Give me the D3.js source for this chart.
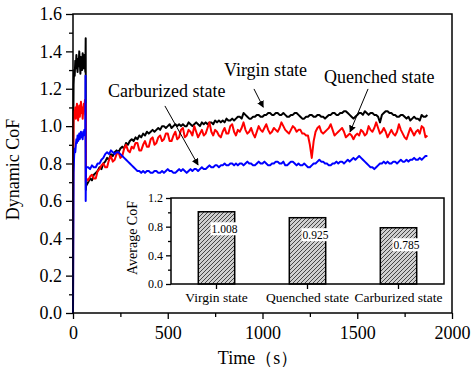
<!DOCTYPE html>
<html>
<head>
<meta charset="utf-8">
<script src="https://cdn.jsdelivr.net/npm/d3@7/dist/d3.min.js"></script>
<style>
body { margin: 0; background: #fff; }
svg { display: block; font-family: "Liberation Serif", "Times New Roman", serif; }
</style>
</head>
<body>
<svg width="474" height="380"></svg>
<script>
// DATA

var timeSec = [0, 1, 3, 6, 9, 12, 15, 18, 21, 24, 27, 30, 33, 36, 39, 42, 45, 48, 51, 54, 57, 60, 63, 65, 66, 67, 68, 69,
  80, 90, 100, 110, 120, 130, 140, 150, 160, 170, 180, 190, 200, 210, 220, 230, 240, 250, 260, 270,
  280, 290, 300, 310, 320, 330, 340, 350, 360, 370, 380, 390, 400, 410, 420, 430, 440, 450, 460, 470,
  480, 490, 500, 510, 520, 530, 540, 550, 560, 570, 580, 590, 600, 610, 620, 630, 640, 650, 660, 670,
  680, 690, 700, 710, 720, 730, 740, 750, 760, 770, 780, 790, 800, 810, 820, 830, 840, 850, 860, 870,
  880, 890, 900, 910, 920, 930, 940, 950, 960, 970, 980, 990, 1000, 1010, 1020, 1030, 1040, 1050, 1060, 1070,
  1080, 1090, 1100, 1110, 1120, 1130, 1140, 1150, 1160, 1170, 1180, 1190, 1200, 1210, 1220, 1230, 1240, 1250, 1260, 1270,
  1280, 1290, 1300, 1310, 1320, 1330, 1340, 1350, 1360, 1370, 1380, 1390, 1400, 1410, 1420, 1430, 1440, 1450, 1460, 1470,
  1480, 1490, 1500, 1510, 1520, 1530, 1540, 1550, 1560, 1570, 1580, 1590, 1600, 1610, 1620, 1630, 1640, 1650, 1660, 1670,
  1680, 1690, 1700, 1710, 1720, 1730, 1740, 1750, 1760, 1770, 1780, 1790, 1800, 1810, 1820, 1830, 1840, 1850, 1860, 1870];

var virginCoF = [0, 0.90, 1.22, 1.30, 1.27, 1.35, 1.31, 1.38, 1.33, 1.29, 1.36, 1.32, 1.40, 1.34, 1.28, 1.37, 1.33, 1.30, 1.39, 1.35, 1.31, 1.38, 1.33, 1.29, 1.36, 1.47, 0.66, 0.68,
  0.70, 0.72, 0.71, 0.74, 0.75, 0.76, 0.78, 0.77, 0.80, 0.81, 0.83, 0.82, 0.85, 0.84, 0.86, 0.87, 0.86, 0.88, 0.89, 0.88,
  0.91, 0.90, 0.92, 0.93, 0.92, 0.94, 0.93, 0.95, 0.94, 0.96, 0.95, 0.97, 0.96, 0.97, 0.98, 0.97, 0.98, 0.99, 0.98, 1.00,
  1.00, 0.99, 1.00, 1.01, 0.99, 1.00, 1.01, 1.00, 1.01, 1.00, 1.01, 1.00, 1.00, 1.02, 1.01, 1.00, 1.01, 1.02, 1.01, 1.00,
  1.02, 1.01, 1.02, 1.01, 1.02, 1.02, 1.01, 1.03, 1.02, 1.03, 1.02, 1.03, 1.02, 1.04, 1.03, 1.03, 1.04, 1.03, 1.04, 1.05,
  1.05, 1.04, 1.07, 1.06, 1.05, 1.04, 1.04, 1.05, 1.05, 1.06, 1.06, 1.05, 1.05, 1.06, 1.06, 1.07, 1.07, 1.06, 1.06, 1.07,
  1.07, 1.06, 1.06, 1.07, 1.06, 1.05, 1.05, 1.06, 1.06, 1.07, 1.07, 1.06, 1.05, 1.04, 1.04, 1.05, 1.05, 1.06, 1.06, 1.05,
  1.05, 1.06, 1.06, 1.05, 1.05, 1.04, 1.05, 1.06, 1.06, 1.07, 1.07, 1.06, 1.06, 1.07, 1.07, 1.08, 1.08, 1.07, 1.06, 1.05,
  1.04, 1.05, 1.06, 1.07, 1.07, 1.06, 1.08, 1.07, 1.06, 1.07, 1.07, 1.06, 1.06, 1.05, 1.02, 1.06, 1.07, 1.08, 1.08, 1.07,
  1.07, 1.06, 1.06, 1.05, 1.05, 1.06, 1.06, 1.05, 1.04, 1.05, 1.03, 1.04, 1.05, 1.04, 1.04, 1.03, 1.06, 1.05, 1.05, 1.06];

var quenchedCoF = [0, 0.60, 1.02, 1.08, 1.05, 1.10, 1.04, 1.09, 1.12, 1.06, 1.03, 1.08, 1.11, 1.05, 1.09, 1.13, 1.07, 1.10, 1.04, 1.09, 1.12, 1.08, 1.14, 1.06, 1.10, 1.12, 0.70, 0.72,
  0.71, 0.73, 0.74, 0.72, 0.72, 0.76, 0.77, 0.79, 0.80, 0.78, 0.78, 0.82, 0.84, 0.81, 0.82, 0.85, 0.86, 0.83, 0.84, 0.88,
  0.90, 0.87, 0.86, 0.89, 0.88, 0.91, 0.91, 0.87, 0.87, 0.90, 0.92, 0.89, 0.89, 0.93, 0.94, 0.90, 0.91, 0.94, 0.95, 0.92,
  0.93, 0.96, 0.96, 0.92, 0.92, 0.95, 0.97, 0.93, 0.94, 0.98, 0.99, 0.94, 0.95, 0.98, 0.97, 0.95, 1.00, 0.97, 0.94, 0.96,
  0.98, 0.95, 0.96, 0.99, 1.02, 0.97, 0.95, 0.98, 0.97, 0.95, 0.94, 0.97, 0.99, 0.96, 0.96, 1.00, 1.01, 0.97, 0.95, 0.98,
  0.97, 0.99, 1.02, 0.98, 0.96, 0.97, 0.99, 0.96, 0.94, 0.97, 1.00, 0.98, 0.97, 0.99, 1.01, 0.98, 0.96, 0.97, 0.99, 0.98,
  0.97, 0.99, 1.02, 1.00, 0.98, 0.97, 0.96, 0.98, 1.00, 0.99, 0.97, 0.98, 0.98, 0.96, 0.96, 0.95, 0.95, 0.90, 0.83, 0.92,
  0.97, 0.99, 1.00, 0.97, 0.96, 0.97, 0.98, 0.99, 1.01, 0.98, 0.95, 0.96, 0.97, 0.98, 0.99, 0.97, 0.94, 0.95, 0.96, 0.95,
  0.93, 0.95, 0.96, 0.95, 0.98, 0.97, 0.95, 0.96, 1.00, 0.98, 0.97, 0.99, 1.02, 0.99, 0.96, 0.97, 0.99, 0.97, 0.94, 0.96,
  0.98, 0.96, 0.95, 0.97, 1.01, 0.98, 0.96, 0.94, 0.93, 0.96, 0.99, 0.97, 0.95, 0.97, 0.98, 0.96, 1.00, 0.99, 0.94, 0.95];

var carburizedCoF = [0, 0.30, 0.75, 0.84, 0.88, 0.86, 0.90, 0.93, 0.91, 0.95, 0.92, 0.94, 0.96, 0.93, 0.95, 0.97, 0.94, 0.96, 0.93, 0.97, 0.95, 0.98, 0.96, 0.99, 1.27, 0.60, 0.74, 0.78,
  0.78, 0.77, 0.79, 0.78, 0.78, 0.80, 0.80, 0.82, 0.83, 0.85, 0.86, 0.85, 0.87, 0.86, 0.85, 0.86, 0.86, 0.85, 0.84, 0.83,
  0.82, 0.81, 0.80, 0.79, 0.78, 0.77, 0.76, 0.76, 0.75, 0.76, 0.75, 0.76, 0.76, 0.75, 0.75, 0.76, 0.76, 0.75, 0.75, 0.76,
  0.75, 0.76, 0.77, 0.76, 0.76, 0.75, 0.75, 0.76, 0.77, 0.76, 0.77, 0.76, 0.75, 0.76, 0.77, 0.76, 0.77, 0.77, 0.76, 0.77,
  0.78, 0.77, 0.77, 0.78, 0.79, 0.78, 0.78, 0.79, 0.79, 0.78, 0.79, 0.79, 0.80, 0.79, 0.79, 0.80, 0.80, 0.79, 0.80, 0.79,
  0.80, 0.80, 0.79, 0.80, 0.81, 0.80, 0.80, 0.79, 0.79, 0.80, 0.81, 0.80, 0.80, 0.81, 0.80, 0.79, 0.79, 0.80, 0.80, 0.81,
  0.81, 0.80, 0.80, 0.81, 0.79, 0.79, 0.80, 0.81, 0.81, 0.80, 0.79, 0.80, 0.79, 0.79, 0.80, 0.79, 0.78, 0.78, 0.79, 0.80,
  0.80, 0.81, 0.82, 0.81, 0.81, 0.80, 0.80, 0.79, 0.79, 0.80, 0.80, 0.81, 0.80, 0.81, 0.81, 0.80, 0.81, 0.82, 0.81, 0.82,
  0.83, 0.82, 0.83, 0.84, 0.83, 0.82, 0.81, 0.80, 0.79, 0.78, 0.78, 0.77, 0.78, 0.79, 0.80, 0.80, 0.81, 0.80, 0.81, 0.80,
  0.80, 0.81, 0.81, 0.80, 0.81, 0.82, 0.81, 0.81, 0.82, 0.81, 0.82, 0.82, 0.83, 0.82, 0.82, 0.83, 0.82, 0.83, 0.84, 0.84];

var states = ["Virgin state", "Quenched state", "Carburized state"];
var averageCoF = [1.008, 0.925, 0.785];

var xTicks = [0, 500, 1000, 1500, 2000];
var xMinor = [250, 750, 1250, 1750];
var yTicks = [0, 0.2, 0.4, 0.6, 0.8, 1.0, 1.2, 1.4, 1.6];
var yMinor = [0.1, 0.3, 0.5, 0.7, 0.9, 1.1, 1.3, 1.5];
var insetTicks = [0, 0.4, 0.8, 1.2];
var insetMinor = [0.2, 0.6, 1.0];

// annotation anchors in data units: label position, arrow start, arrow end
var notes = [
  { text: "Carburized state", t: 185, v: 1.156, t0: 485, v0: 1.108, t1: 660, v1: 0.792 },
  { text: "Virgin state", t: 797, v: 1.266, t0: 955, v0: 1.199, t1: 1004, v1: 1.101 },
  { text: "Quenched state", t: 1325, v: 1.229, t0: 1557, v0: 1.199, t1: 1462, v1: 0.969 }
];

// SETUP

var svg = d3.select("svg"),
    plot = { left: 73, top: 14, right: 452, bottom: 313 },
    inset = { left: 171, top: 198, right: 444, bottom: 284 };

var x = d3.scaleLinear().domain([0, 2000]).range([plot.left, plot.right]),
    y = d3.scaleLinear().domain([0, 1.6]).range([plot.bottom, plot.top]);

var defs = svg.append("defs");
defs.append("marker")
    .attr("id", "arrow")
    .attr("viewBox", "0 0 10 10")
    .attr("refX", 9).attr("refY", 5)
    .attr("markerWidth", 7).attr("markerHeight", 7)
    .attr("markerUnits", "userSpaceOnUse")
    .attr("orient", "auto")
  .append("path")
    .attr("d", "M0,0 L10,5 L0,10 z")
    .attr("fill", "#000");

var hatch = defs.append("pattern")
    .attr("id", "hatch")
    .attr("patternUnits", "userSpaceOnUse")
    .attr("width", 4).attr("height", 4);
hatch.append("rect").attr("width", 4).attr("height", 4).attr("fill", "#cfcfcf");
hatch.append("path")
    .attr("d", "M-1,1 l2,-2 M0,4 l4,-4 M3,5 l2,-2")
    .attr("stroke", "#222").attr("stroke-width", 0.8);

function styleTicks(g, size) {
    g.attr("font-family", null).attr("font-size", null);
    g.select(".domain").remove();
    g.selectAll(".tick line").attr("stroke", "#000").attr("stroke-width", 1.3);
    g.selectAll(".tick text").attr("fill", "#000").attr("font-size", size);
}

// MAIN AXES

var gx = svg.append("g")
    .attr("transform", "translate(0," + plot.bottom + ")")
    .call(d3.axisBottom(x).tickValues(xTicks).tickSize(6).tickPadding(7).tickFormat(d3.format("d")));
styleTicks(gx, 18);
var gxm = svg.append("g")
    .attr("transform", "translate(0," + plot.bottom + ")")
    .call(d3.axisBottom(x).tickValues(xMinor).tickSize(4).tickFormat(""));
styleTicks(gxm, 0);

var gy = svg.append("g")
    .attr("transform", "translate(" + plot.left + ",0)")
    .call(d3.axisLeft(y).tickValues(yTicks).tickSize(7).tickPadding(4).tickFormat(d3.format(".1f")));
styleTicks(gy, 18);
var gym = svg.append("g")
    .attr("transform", "translate(" + plot.left + ",0)")
    .call(d3.axisLeft(y).tickValues(yMinor).tickSize(4).tickFormat(""));
styleTicks(gym, 0);

// CURVES

var series = [
    { values: virginCoF, color: "#000000" },
    { values: quenchedCoF, color: "#ff0000" },
    { values: carburizedCoF, color: "#0000ff" }
];

var line = d3.line()
    .x(function (d) { return x(d[0]); })
    .y(function (d) { return y(d[1]); });

series.forEach(function (s) {
    svg.append("path")
        .datum(timeSec.map(function (t, i) { return [t, s.values[i]]; }))
        .attr("fill", "none")
        .attr("stroke", s.color)
        .attr("stroke-width", 2)
        .attr("stroke-linejoin", "round")
        .attr("d", line);
});

svg.append("rect")
    .attr("x", plot.left).attr("y", plot.top)
    .attr("width", plot.right - plot.left).attr("height", plot.bottom - plot.top)
    .attr("fill", "none").attr("stroke", "#000").attr("stroke-width", 1.5);

// ANNOTATIONS

notes.forEach(function (n) {
    svg.append("text")
        .attr("x", x(n.t)).attr("y", y(n.v))
        .attr("font-size", 18)
        .text(n.text);
    svg.append("line")
        .attr("x1", x(n.t0)).attr("y1", y(n.v0))
        .attr("x2", x(n.t1)).attr("y2", y(n.v1))
        .attr("stroke", "#000").attr("stroke-width", 1)
        .attr("marker-end", "url(#arrow)");
});

// INSET BAR CHART

var bx = d3.scaleBand().domain(states)
    .range([inset.left, inset.right])
    .paddingInner(0.6).paddingOuter(0.3);
var by = d3.scaleLinear().domain([0, 1.2]).range([inset.bottom, inset.top]);

svg.append("rect")
    .attr("x", inset.left).attr("y", inset.top)
    .attr("width", inset.right - inset.left).attr("height", inset.bottom - inset.top)
    .attr("fill", "#fff");

svg.selectAll(".bar")
    .data(states)
  .enter().append("rect")
    .attr("class", "bar")
    .attr("x", function (d) { return bx(d); })
    .attr("y", function (d, i) { return by(averageCoF[i]); })
    .attr("width", bx.bandwidth())
    .attr("height", function (d, i) { return inset.bottom - by(averageCoF[i]); })
    .attr("fill", "url(#hatch)")
    .attr("stroke", "#000").attr("stroke-width", 1.5);

var labels = svg.selectAll(".vlab")
    .data(states)
  .enter().append("g")
    .attr("class", "vlab")
    .attr("transform", function (d, i) {
        return "translate(" + (bx(d) + bx.bandwidth() / 2 + 8) + "," + (by(averageCoF[i]) + 17) + ")";
    });
labels.append("rect")
    .attr("x", -14).attr("y", -6.5).attr("width", 28).attr("height", 13)
    .attr("fill", "#fff");
labels.append("text")
    .attr("text-anchor", "middle").attr("dy", "0.35em")
    .attr("font-size", 11.5)
    .text(function (d, i) { return d3.format(".3f")(averageCoF[i]); });

svg.append("rect")
    .attr("x", inset.left).attr("y", inset.top)
    .attr("width", inset.right - inset.left).attr("height", inset.bottom - inset.top)
    .attr("fill", "none").attr("stroke", "#000").attr("stroke-width", 1.5);

var ibx = svg.append("g")
    .attr("transform", "translate(0," + inset.bottom + ")")
    .call(d3.axisBottom(bx).tickSize(5).tickPadding(3));
styleTicks(ibx, 13.5);

var iby = svg.append("g")
    .attr("transform", "translate(" + inset.left + ",0)")
    .call(d3.axisLeft(by).tickValues(insetTicks).tickSize(5).tickPadding(3).tickFormat(d3.format(".1f")));
styleTicks(iby, 12);
var ibym = svg.append("g")
    .attr("transform", "translate(" + inset.left + ",0)")
    .call(d3.axisLeft(by).tickValues(insetMinor).tickSize(3).tickFormat(""));
styleTicks(ibym, 0);

// AXIS TITLES

svg.append("text")
    .attr("transform", "translate(19," + ((plot.top + plot.bottom) / 2 + 6) + ") rotate(-90)")
    .attr("text-anchor", "middle")
    .attr("font-size", 18)
    .text("Dynamic CoF");

svg.append("text")
    .attr("x", 258).attr("y", 364)
    .attr("text-anchor", "middle")
    .attr("font-size", 18)
    .text("Time（s）");

svg.append("text")
    .attr("transform", "translate(137," + ((inset.top + inset.bottom) / 2 - 3) + ") rotate(-90)")
    .attr("text-anchor", "middle")
    .attr("font-size", 14)
    .text("Average CoF");
</script>
</body>
</html>
